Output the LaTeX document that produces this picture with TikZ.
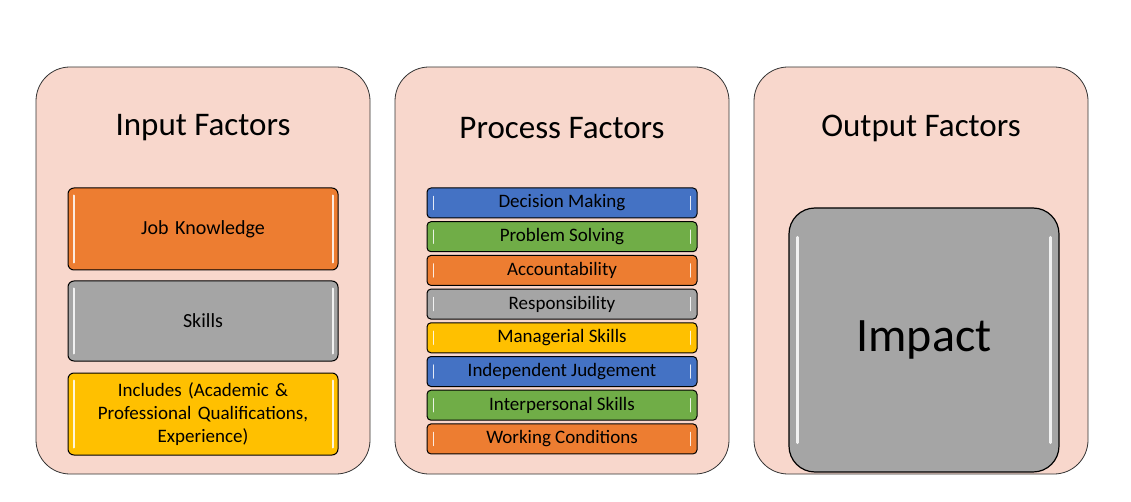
\documentclass[tikz,border=0pt]{standalone}
\usepackage{fontspec}
\setmainfont{Carlito}
\definecolor{panel}{HTML}{F8D7CC}
\definecolor{cor}{HTML}{ED7D31}
\definecolor{cgr}{HTML}{A5A5A5}
\definecolor{cgo}{HTML}{FFC000}
\definecolor{cbl}{HTML}{4472C4}
\definecolor{cgn}{HTML}{70AD47}
\begin{document}
\begin{tikzpicture}[x=1pt,y=-1pt,
 panelbox/.style={draw=black!80,fill=panel,rounded corners=34pt,line width=0.8pt},
 ttl/.style={font=\fontsize{33}{36}\selectfont},
 bigbox/.style={draw=black,fill=#1,rounded corners=6pt,line width=1pt,minimum width=270pt,text width=250pt,align=center,font=\fontsize{20}{23}\selectfont},
 pbox/.style={draw=black,fill=#1,rounded corners=4pt,line width=1pt,minimum width=270pt,minimum height=30pt,inner sep=0pt,font=\fontsize{19}{21}\selectfont},
 hl/.style={white,line width=2pt,line cap=round,opacity=0.85}]
\useasboundingbox (0,0) rectangle (1131,502);
\draw[panelbox] (36,67) rectangle (370,474);
\draw[panelbox] (395,67) rectangle (729,474);
\draw[panelbox] (754,67) rectangle (1088,474);
\node[ttl] (t1) at (203,128) {Input Factors};
\node[ttl] (t2) at (562,128) {Process Factors};
\node[ttl] (t3) at (921,128) {Output Factors};
\node[bigbox=cor,minimum height=82pt] (a1) at (203,229) {Job Knowledge};
\node[bigbox=cgr,minimum height=80pt] (a2) at (203,321) {Skills};
\node[bigbox=cgo,minimum height=82pt,font=\fontsize{19}{23}\selectfont] (a3) at (203,414) {Includes (Academic \&\\Professional Qualifications,\\Experience)};
\foreach \n in {a1,a2,a3}{
 \draw[hl] ([xshift=6pt,yshift=-8pt]\n.north west) -- ([xshift=6pt,yshift=8pt]\n.south west);
 \draw[hl] ([xshift=-6pt,yshift=-8pt]\n.north east) -- ([xshift=-6pt,yshift=8pt]\n.south east);}
\foreach \i/\c/\t in {0/cbl/Decision Making,1/cgn/Problem Solving,2/cor/Accountability,3/cgr/Responsibility,4/cgo/Managerial Skills,5/cbl/Independent Judgement,6/cgn/Interpersonal Skills,7/cor/Working Conditions}{
 \node[pbox=\c] (p\i) at (562,203+33.7*\i) {\t};
 \draw[hl,line width=1.5pt] ([xshift=7pt,yshift=-9pt]p\i.north west) -- ([xshift=7pt,yshift=9pt]p\i.south west);
 \draw[hl,line width=1.5pt] ([xshift=-7pt,yshift=-9pt]p\i.north east) -- ([xshift=-7pt,yshift=9pt]p\i.south east);}
\node[draw=black,fill=cgr,rounded corners=26pt,line width=1.2pt,minimum width=270pt,minimum height=264pt,font=\fontsize{48}{52}\selectfont] (imp) at (924,340) {Impact};
\draw[hl,line width=3pt] ([xshift=9pt,yshift=-30pt]imp.north west) -- ([xshift=9pt,yshift=30pt]imp.south west);
\draw[hl,line width=3pt] ([xshift=-9pt,yshift=-30pt]imp.north east) -- ([xshift=-9pt,yshift=30pt]imp.south east);
\end{tikzpicture}
\end{document}
